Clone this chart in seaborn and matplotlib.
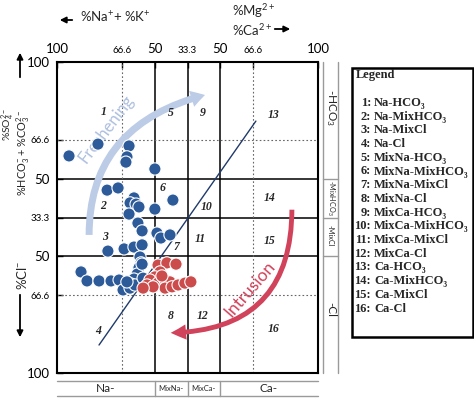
import numpy as np
import pandas as pd
import matplotlib
matplotlib.use("Agg")
import matplotlib.pyplot as plt
import seaborn as sns
from matplotlib.patches import FancyArrowPatch, Rectangle
from matplotlib.path import Path

# ---------------- data (diagram position units: x 0-100 left->right, y 0-100 top->bottom)
blue_x = [4.6, 15.7, 27.6, 26.8, 26.4, 37.5, 19.2, 23.4, 29.5, 28.0, 30.3, 31.4, 37.5, 44.4,
          27.6, 31.0, 32.6, 38.3, 39.8, 43.3, 19.5, 25.7, 29.5, 32.6, 9.2, 11.5, 16.1, 20.7,
          23.8, 31.8, 32.2, 31.4, 30.7, 29.5, 28.4, 26.8, 25.3, 28.0, 29.9, 33.0, 26.8, 32.6]
blue_y = [30.2, 26.4, 27.0, 30.5, 32.2, 34.4, 41.2, 40.5, 43.7, 45.3, 45.7, 46.6, 47.3, 44.4,
          48.9, 51.8, 54.3, 55.0, 56.6, 55.6, 60.8, 60.1, 59.5, 58.8, 67.5, 70.4, 70.4, 70.4,
          70.1, 62.7, 64.6, 66.2, 68.2, 69.8, 71.4, 72.7, 73.3, 72.7, 71.7, 69.5, 70.7, 65.0]
red_x = [38.7, 42.1, 45.6, 39.5, 37.5, 35.6, 34.5, 38.7, 41.4, 43.3, 41.4, 44.1, 46.4, 49.0,
         51.3, 36.8, 40.2, 33.0]
red_y = [65.3, 64.6, 65.0, 67.5, 69.1, 70.1, 71.7, 71.1, 70.1, 70.7, 72.7, 72.3, 71.7, 71.1,
         70.7, 72.3, 68.8, 72.7]

mixing_line_x = [16.1, 76.2]
mixing_line_y = [91.0, 19.0]

tick_pos = [0, 25, 37.5, 50, 62.5, 75, 100]
tick_labels = ["100", "66.6", "50", "33.3", "50", "66.6", "100"]
solid_lines = [37.5, 50, 62.5]
dotted_lines = [25, 75]

region_num = list(range(1, 17))
region_x = [18.0, 17.6, 18.4, 15.7, 43.7, 40.6, 45.6, 43.7, 55.9, 57.5, 54.8, 55.6, 82.8, 81.6, 81.6, 82.8]
region_y = [16.1, 46.3, 56.3, 86.5, 16.4, 40.5, 59.5, 81.7, 16.4, 46.6, 56.9, 81.7, 17.0, 43.7, 57.6, 85.9]

cation_labels = ["Na-", "MixNa-", "MixCa-", "Ca-"]
cation_centers = [18.8, 43.75, 56.25, 81.2]
anion_labels = ["-HCO$_3$", "-MixHCO$_3$", "-MixCl", "-Cl"]
anion_centers = [14.5, 43.7, 56.0, 79.7]

legend_names = ["Na-HCO₃", "Na-MixHCO₃", "Na-MixCl", "Na-Cl", "MixNa-HCO₃", "MixNa-MixHCO₃",
                "MixNa-MixCl", "MixNa-Cl", "MixCa-HCO₃", "MixCa-MixHCO₃", "MixCa-MixCl",
                "MixCa-Cl", "Ca-HCO₃", "Ca-MixHCO₃", "Ca-MixCl", "Ca-Cl"]

# ---------------- style
sns.set_style("white")
plt.rcParams['font.family'] = ['Lato', 'DejaVu Sans']
plt.rcParams['mathtext.fontset'] = 'custom'
plt.rcParams['mathtext.rm'] = 'Lato'
plt.rcParams['mathtext.it'] = 'Lato:italic'
plt.rcParams['mathtext.bf'] = 'Lato:bold'

W, H = 474, 399
fig = plt.figure(figsize=(W / 100, H / 100), dpi=100)
ax = fig.add_axes([57 / W, 1 - 373 / H, 261 / W, 311 / H])

df = pd.DataFrame({
    "x": blue_x + red_x,
    "y": blue_y + red_y,
    "group": ["fresh"] * len(blue_x) + ["saline"] * len(red_x),
})
sns.scatterplot(data=df, x="x", y="y", hue="group",
                palette={"fresh": "#2D5B9A", "saline": "#CC4B4B"},
                s=78, edgecolor="white", linewidth=0.8, legend=False, ax=ax, zorder=4)

ax.set_xlim(0, 100)
ax.set_ylim(100, 0)
ax.set_xlabel("")
ax.set_ylabel("")

for v in solid_lines:
    ax.axvline(v, color="black", lw=1.1, zorder=2)
    ax.axhline(v, color="black", lw=1.1, zorder=2)
for v in dotted_lines:
    ax.axvline(v, color="#666666", lw=0.8, ls=(0, (1.5, 2)), zorder=2)
    ax.axhline(v, color="#666666", lw=0.8, ls=(0, (1.5, 2)), zorder=2)

for s in ax.spines.values():
    s.set_color("black")
    s.set_linewidth(1.5)
    s.set_visible(True)

ax.xaxis.tick_top()
ax.set_xticks(tick_pos)
ax.set_xticklabels(tick_labels)
ax.set_yticks(tick_pos)
ax.set_yticklabels(tick_labels)
ax.tick_params(axis="x", top=True, bottom=False, direction="in", length=4, width=1, pad=5, colors="black")
ax.tick_params(axis="y", left=True, right=False, direction="in", length=4, width=1, pad=5, colors="black")
for lab in ax.get_xticklabels() + ax.get_yticklabels():
    if lab.get_text() in ("66.6", "33.3"):
        lab.set_fontsize(7)
    else:
        lab.set_fontsize(9.5)

# mixing line
ax.plot(mixing_line_x, mixing_line_y, color="#1F3A6B", lw=1.0, zorder=3)

# region numbers
for n, x, y in zip(region_num, region_x, region_y):
    ax.text(x, y, str(n), ha="center", va="center", fontsize=8.5,
            family="Liberation Serif", weight="bold", style="italic", zorder=5)

# Freshening arrow (quadratic curve: vertical start, near-horizontal end)
fresh_path = Path([(12.3, 55.6), (12.3, 20.3), (56.7, 10.6)],
                  [Path.MOVETO, Path.CURVE3, Path.CURVE3])
fa = FancyArrowPatch(path=fresh_path,
                     arrowstyle="simple,head_length=1.0,head_width=1.2,tail_width=0.5",
                     mutation_scale=10, color="#BCCBE6", lw=0, zorder=3)
ax.add_patch(fa)
ax.text(19.0, 21.5, "Freshening", rotation=53, ha="center", va="center",
        fontsize=12, color="#AEBFDF", zorder=3)

# Intrusion arrow
ia = FancyArrowPatch((90.0, 46.6), (42.5, 87.1), connectionstyle="arc3,rad=-0.5",
                     arrowstyle="simple,head_length=1.1,head_width=1.1,tail_width=0.35",
                     mutation_scale=10, color="#D1425B", lw=0, zorder=3)
ax.add_patch(ia)
ax.text(74.0, 73.0, "Intrusion", rotation=49, ha="center", va="center",
        fontsize=12.5, color="#D1425B", zorder=3)

# bottom cation bar
bar_c = "#9A9A9A"
for yy in (102.6, 107.4):
    ax.plot([0, 100], [yy, yy], color=bar_c, lw=1, clip_on=False)
for v in solid_lines:
    ax.plot([v, v], [102.6, 107.4], color=bar_c, lw=1, clip_on=False)
for lab, c in zip(cation_labels, cation_centers):
    fs = 8.5 if len(lab) < 5 else 5.5
    ax.text(c, 105.0, lab, ha="center", va="center", fontsize=fs, clip_on=False)

# right anion bar
for xx in (101.9, 107.7):
    ax.plot([xx, xx], [0, 100], color=bar_c, lw=1, clip_on=False)
for v in solid_lines:
    ax.plot([101.9, 107.7], [v, v], color=bar_c, lw=1, clip_on=False)
for lab, c in zip(anion_labels, anion_centers):
    fs = 8.5 if ("Mix" not in lab) else 5.2
    ax.text(104.8, c, lab, ha="center", va="center", rotation=-90, fontsize=fs, clip_on=False)

# axis titles (figure pixels)
def fp(px, py):
    return (px / W, 1 - py / H)

fig.text(*fp(115, 17), "%Na$^{+}$+ %K$^{+}$", ha="center", va="center", fontsize=9.5)
ax.annotate("", xy=(57, H - 20), xytext=(75, H - 20), xycoords="figure pixels",
            textcoords="figure pixels", arrowprops=dict(arrowstyle="-|>", color="black", lw=1.3,
                                                        mutation_scale=9))
fig.text(*fp(232, 11), "%Mg$^{2+}$", ha="left", va="center", fontsize=9.5)
fig.text(*fp(232, 30), "%Ca$^{2+}$", ha="left", va="center", fontsize=9.5)
ax.annotate("", xy=(293, H - 29), xytext=(272, H - 29), xycoords="figure pixels",
            textcoords="figure pixels", arrowprops=dict(arrowstyle="-|>", color="black", lw=1.3,
                                                        mutation_scale=9))

fig.text(*fp(8.0, 108), "%SO$_4^{2-}$", rotation=90, ha="center", va="top", fontsize=7.5)
fig.text(*fp(23.5, 110), "%HCO$_3^{-}$ + %CO$_3^{2-}$", rotation=90, ha="center", va="top", fontsize=7.8)
ax.annotate("", xy=(20, H - 50), xytext=(20, H - 80), xycoords="figure pixels",
            textcoords="figure pixels", arrowprops=dict(arrowstyle="-|>", color="black", lw=1.3,
                                                        mutation_scale=9))
fig.text(*fp(22, 275), "%Cl$^{-}$", rotation=90, ha="center", va="center", fontsize=9.5)
ax.annotate("", xy=(20, H - 340), xytext=(20, H - 292), xycoords="figure pixels",
            textcoords="figure pixels", arrowprops=dict(arrowstyle="-|>", color="black", lw=1.3,
                                                        mutation_scale=9))

# legend box
fig.patches.append(Rectangle(fp(352, 337), 121 / W, 269 / H, transform=fig.transFigure,
                             fill=False, edgecolor="black", lw=1.8))
serif = ["Liberation Serif", "DejaVu Serif"]
fig.text(*fp(356, 75), "Legend", ha="left", va="center", fontsize=9, family=serif, weight="bold")
for i, name in enumerate(legend_names):
    py = 103 + i * 13.7
    fig.text(*fp(371, py), f"{i + 1}:", ha="right", va="center", fontsize=9, family=serif, weight="bold")
    fig.text(*fp(374, py), name, ha="left", va="center", fontsize=9, family=serif, weight="bold")

fig.savefig("out.png", dpi=100)
